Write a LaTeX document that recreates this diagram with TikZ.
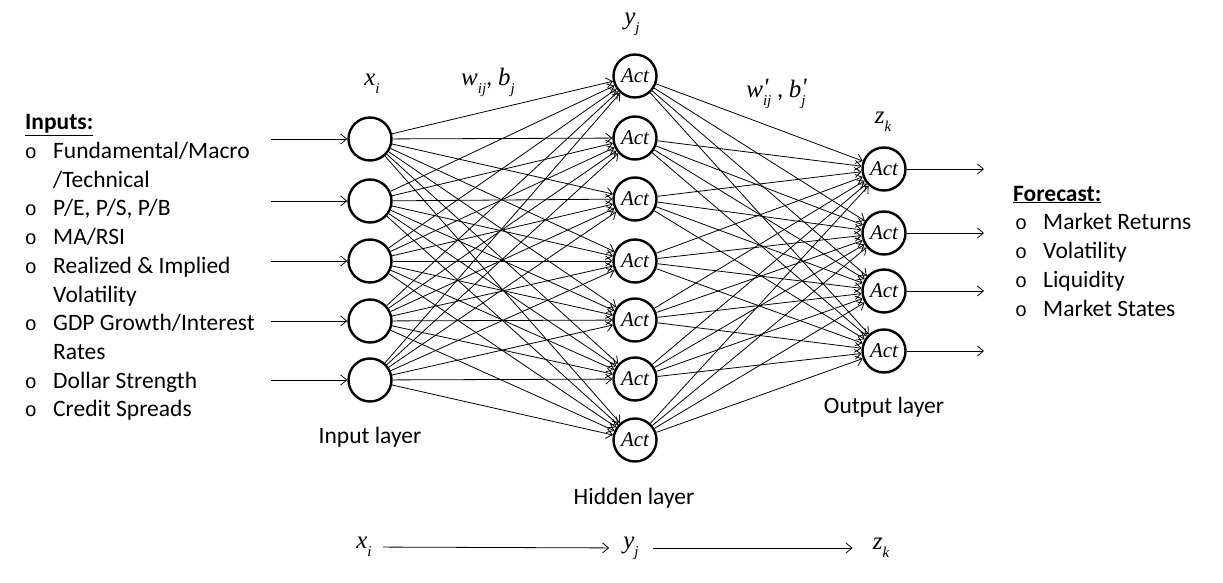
\documentclass[tikz,border=0pt]{standalone}
\usepackage{fontspec}
\setmainfont{Carlito}
\newfontfamily\tnr{Liberation Serif}
\newfontfamily\monofnt{Liberation Mono}
\usetikzlibrary{arrows.meta}
\newcommand{\msub}[2]{{\tnr\itshape #1\raisebox{-0.7ex}{\fontsize{15}{15}\selectfont #2}}}
\newcommand{\msubp}[2]{{\tnr\itshape #1\rlap{\raisebox{0.15ex}{'}}\raisebox{-0.7ex}{\fontsize{15}{15}\selectfont #2}}}
\begin{document}
\begin{tikzpicture}[x=1pt,y=-1pt,
  neuron/.style={circle,draw,line width=2.4pt,minimum size=43pt,inner sep=0pt,
    font=\tnr\itshape\fontsize{21}{21}\selectfont},
  conn/.style={line width=0.8pt,-{Straight Barb[length=6pt,width=10pt]}},
  txt/.style={anchor=base west,inner sep=0pt,font=\fontsize{23.5}{28}\selectfont},
  bul/.style={anchor=base,inner sep=0pt,font=\monofnt\fontsize{20}{24}\selectfont},
  lab/.style={inner sep=0pt,font=\fontsize{25}{25}\selectfont},
  layer/.style={inner sep=0pt,font=\fontsize{23.5}{28}\selectfont}]
\useasboundingbox (0,0) rectangle (1223,583);
% input nodes
\foreach \y [count=\i] in {139,201,261,321,380} {
  \node[neuron] (in\i) at (370,\y) {};
  \coordinate (ia\i) at (271,\y);
  \draw[conn] (ia\i) -- (in\i);
}
% hidden nodes
\foreach \y [count=\j] in {76,138,199,261,320,379,440} {
  \node[neuron] (h\j) at (635,\y) {Act};
}
% output nodes
\foreach \y [count=\k] in {169,233,291,351} {
  \node[neuron] (o\k) at (884,\y) {Act};
  \coordinate (oa\k) at (984,\y);
  \draw[conn] (o\k) -- (oa\k);
}
\foreach \i in {1,...,5} \foreach \j in {1,...,7} \draw[conn] (in\i) -- (h\j);
\foreach \j in {1,...,7} \foreach \k in {1,...,4} \draw[conn] (h\j) -- (o\k);
% labels
\node[lab] (lx) at (372,84) {\msub{x}{i}};
\node[lab] (lw) at (488,82) {\msub{w}{ij}, \msub{b}{j}};
\node[lab] (ly) at (632,24) {\msub{y}{j}};
\node[lab] (lw2) at (776,94) {\msubp{w}{ij} , \msubp{b}{j}};
\node[lab] (lz) at (883,122) {\msub{z}{k}};
\node[layer] (li) at (370,437) {Input layer};
\node[layer] (lh) at (634,498) {Hidden layer};
\node[layer] (lo) at (884,407) {Output layer};
% bottom row
\node[lab] (bx) at (364,547) {\msub{x}{i}};
\node[lab] (by) at (631,548) {\msub{y}{j}};
\node[lab] (bz) at (881,548) {\msub{z}{k}};
\draw[conn,shorten <=11pt,shorten >=14pt] (bx) -- (by);
\draw[conn,shorten <=14pt,shorten >=20pt] (by) -- (bz);
% inputs list
\node[txt] (inh) at (25,130) {\textbf{\underline{Inputs:}}};
\foreach \y [count=\n] in {158,215,244,273,330,388,416} {
  \node[bul] (ib\n) at (31,\y) {o};
}
\node[txt] (t1) at (53,158) {Fundamental/Macro};
\node[txt] (t2) at (53,187) {/Technical};
\node[txt] (t3) at (53,215) {P/E, P/S, P/B};
\node[txt] (t4) at (53,244) {MA/RSI};
\node[txt] (t5) at (53,273) {Realized \& Implied};
\node[txt] (t6) at (53,302) {Volatility};
\node[txt] (t7) at (53,330) {GDP Growth/Interest};
\node[txt] (t8) at (53,359) {Rates};
\node[txt] (t9) at (53,388) {Dollar Strength};
\node[txt] (t10) at (53,416) {Credit Spreads};
% forecast list
\node[txt] (fh) at (1013,201) {\textbf{\underline{Forecast:}}};
\foreach \t/\y [count=\n] in {Market Returns/229,Volatility/258,Liquidity/287,Market States/316} {
  \node[bul] (fb\n) at (1021,\y) {o};
  \node[txt] (f\n) at (1043,\y) {\t};
}
\end{tikzpicture}
\end{document}
